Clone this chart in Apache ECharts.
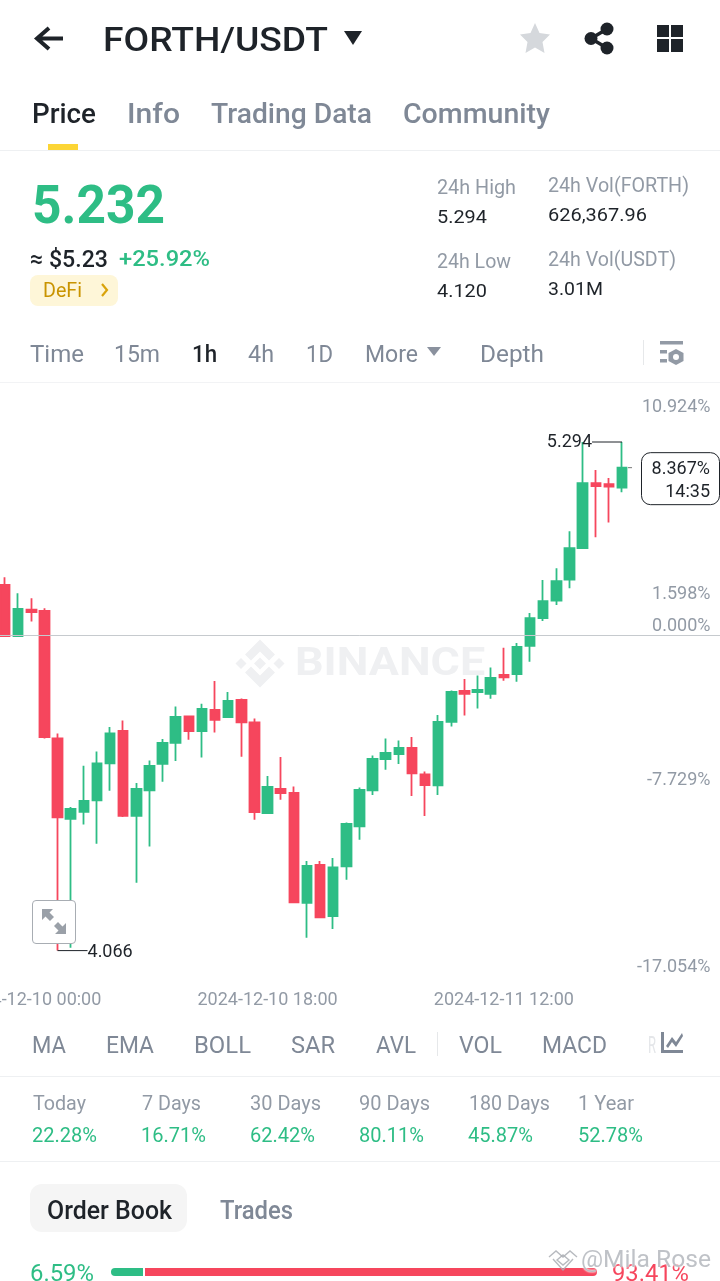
<!DOCTYPE html>
<html>
<head>
<meta charset="utf-8">
<script src="https://cdn.jsdelivr.net/npm/echarts@6/dist/echarts.min.js"></script>
<style>
html,body{margin:0;padding:0;background:#fff;width:720px;height:1281px;overflow:hidden;font-family:Roboto,sans-serif}
#chart{position:absolute;left:0;top:0;width:720px;height:1281px}
#ui{position:absolute;left:0;top:0;width:720px;height:1281px;pointer-events:none;overflow:hidden}
#ui span{position:absolute;white-space:nowrap;line-height:1;transform-origin:0 50%}
#ui div{position:absolute}
#ui svg{position:absolute;left:0;top:0}
</style>
</head>
<body>
<div id="chart"></div>
<div id="ui"></div>
<script>
// Hourly candles, values (percent from 24h reference line)
const categories = [
"2024-12-09 22:00","2024-12-09 23:00","2024-12-10 00:00","2024-12-10 01:00","2024-12-10 02:00","2024-12-10 03:00",
"2024-12-10 04:00","2024-12-10 05:00","2024-12-10 06:00","2024-12-10 07:00","2024-12-10 08:00","2024-12-10 09:00",
"2024-12-10 10:00","2024-12-10 11:00","2024-12-10 12:00","2024-12-10 13:00","2024-12-10 14:00","2024-12-10 15:00",
"2024-12-10 16:00","2024-12-10 17:00","2024-12-10 18:00","2024-12-10 19:00","2024-12-10 20:00","2024-12-10 21:00",
"2024-12-10 22:00","2024-12-10 23:00","2024-12-11 00:00","2024-12-11 01:00","2024-12-11 02:00","2024-12-11 03:00",
"2024-12-11 04:00","2024-12-11 05:00","2024-12-11 06:00","2024-12-11 07:00","2024-12-11 08:00","2024-12-11 09:00",
"2024-12-11 10:00","2024-12-11 11:00","2024-12-11 12:00","2024-12-11 13:00","2024-12-11 14:00","2024-12-11 15:00",
"2024-12-11 16:00","2024-12-11 17:00","2024-12-11 18:00","2024-12-11 19:00","2024-12-11 20:00","2024-12-11 21:00",
"","","","","","",""];
const opens  = [2.50,-0.05,1.27,1.20,-5.17,-9.19,-8.84,-8.27,-6.42,-4.80,-9.04,-7.77,-6.44,-5.39,-4.07,-4.80,-3.75,-4.10,-3.25,-4.37,-8.90,-7.70,-7.89,-13.39,-11.49,-14.05,-11.57,-9.57,-7.77,-6.20,-5.95,-5.64,-6.97,-7.52,-4.34,-2.80,-2.85,-2.94,-2.00,-1.95,-0.54,0.85,1.72,2.77,4.35,7.59,7.54,7.37];
const closes = [-0.05,1.30,1.15,-5.10,-9.12,-8.69,-8.29,-6.42,-4.92,-9.04,-7.70,-6.55,-5.39,-4.10,-4.80,-3.70,-4.24,-3.30,-4.37,-8.85,-7.60,-7.90,-13.37,-11.54,-14.12,-11.62,-9.45,-7.75,-6.20,-5.90,-5.65,-6.92,-7.50,-4.35,-2.85,-2.94,-2.74,-2.14,-2.12,-0.60,0.84,1.69,2.69,4.34,7.59,7.44,7.42,8.367];
const lows   = [-0.08,-0.09,0.67,-5.17,-15.78,-15.64,-9.47,-10.44,-7.79,-9.10,-12.39,-10.57,-7.34,-6.30,-5.24,-6.12,-4.87,-4.10,-6.09,-9.24,-8.94,-8.24,-13.40,-15.14,-14.15,-14.70,-12.24,-10.24,-8.00,-6.74,-6.45,-8.05,-9.05,-8.00,-4.57,-4.02,-3.67,-3.19,-2.29,-2.34,-1.34,0.70,1.50,2.34,4.35,4.89,5.62,7.14];
const highs  = [2.89,2.09,1.84,1.34,-4.92,-8.60,-6.54,-5.82,-4.60,-4.27,-7.40,-6.27,-5.20,-3.57,-4.07,-3.44,-2.30,-2.85,-3.17,-4.17,-7.05,-6.10,-7.57,-11.30,-11.30,-11.15,-9.37,-7.62,-6.02,-5.17,-5.27,-5.10,-6.82,-4.00,-2.77,-2.20,-2.02,-1.62,-0.64,-0.40,1.10,2.75,3.34,5.19,9.65,8.25,7.85,9.65];
const percentTicks = [10.924,1.598,0,-7.729,-17.054];
const timeTicks = ["2024-12-10 00:00","2024-12-10 18:00","2024-12-11 12:00"];
const highLabel = "5.294", lowLabel = "4.066", livePct = "8.367%", liveTimer = "14:35";
const highIndex = 47, lowIndex = 4, liveIndex = 47;

const GREEN = "#2EBD85", RED = "#F6465D", GRAY = "#929AA5", DARK = "#1E2329";
const chart = echarts.init(document.getElementById("chart"), null, {width:720, height:1281});
chart.setOption({
  animation:false,
  backgroundColor:"#fff",
  grid:{left:-1.564, top:384, width:722.04, height:625, containLabel:false, outerBoundsMode:"none"},
  xAxis:{type:"category", data:categories, boundaryGap:true,
    axisLine:{show:true, lineStyle:{color:"#EEF0F2", width:1}},
    axisTick:{show:false}, splitLine:{show:false},
    axisLabel:{inside:true, margin:0, fontSize:18, color:GRAY, fontFamily:"Roboto", verticalAlign:"bottom", hideOverlap:false,
      interval:(i,v)=>timeTicks.includes(v)}},
  yAxis:{type:"value", position:"right", min:-18.7, max:12.55, scale:true,
    axisLine:{show:false}, axisTick:{show:false}, splitLine:{show:false},
    axisLabel:{inside:true, margin:10, fontSize:18, color:GRAY, fontFamily:"Roboto", verticalAlign:"bottom", align:"right",
      customValues:percentTicks, showMinLabel:true, showMaxLabel:true,
      formatter:v=>v.toFixed(3)+"%"}},
  series:[{type:"candlestick", barWidth:10,
    data:opens.map((o,i)=>[o,closes[i],lows[i],highs[i]]),
    itemStyle:{color:GREEN,color0:RED,borderColor:GREEN,borderColor0:RED,borderWidth:1.8},
    markLine:{silent:true, symbol:"none", label:{show:false},
      lineStyle:{color:"#C6CACE", width:1, type:"solid"}, data:[{yAxis:0}], animation:false}}]
});

// Annotations anchored on the chart's own scales
const px = (i,v)=>chart.convertToPixel({xAxisIndex:0,yAxisIndex:0},[i,v]);
const hi = px(highIndex,highs[highIndex]), lo = px(lowIndex,lows[lowIndex]), live = px(liveIndex,closes[liveIndex]);
const WM = "#EFF0F2";
const poly = pts=>({type:"polygon",z:0,shape:{points:pts.map(p=>[260+p[0],663.5+p[1]])},style:{fill:WM}});
chart.setOption({graphic:{elements:[
  poly([[0,-24],[15,-9],[9,-3],[0,-12],[-9,-3],[-15,-9]]),
  poly([[0,24],[15,9],[9,3],[0,12],[-9,3],[-15,9]]),
  poly([[-19,-5.5],[-13.5,0],[-19,5.5],[-24.5,0]]),
  poly([[19,-5.5],[24.5,0],[19,5.5],[13.5,0]]),
  poly([[0,-6],[6,0],[0,6],[-6,0]]),
  {type:"text",z:0,x:295,y:665,scaleX:1.15,style:{text:"BINANCE",fill:WM,font:"700 39px Roboto",textVerticalAlign:"middle"}},
  {type:"line",z:10,shape:{x1:hi[0]-30,y1:hi[1],x2:hi[0],y2:hi[1]},style:{stroke:DARK,lineWidth:1}},
  {type:"text",z:10,x:hi[0]-30,y:hi[1],style:{text:highLabel,fill:DARK,font:"18px Roboto",textAlign:"right",textVerticalAlign:"middle"}},
  {type:"line",z:10,shape:{x1:lo[0],y1:lo[1],x2:lo[0]+30,y2:lo[1]},style:{stroke:DARK,lineWidth:1}},
  {type:"text",z:10,x:lo[0]+30,y:lo[1]+2,style:{text:lowLabel,fill:DARK,font:"18px Roboto",textAlign:"left",textVerticalAlign:"middle"}},
  {type:"line",z:10,shape:{x1:live[0]+6,y1:live[1],x2:live[0]+10,y2:live[1]},style:{stroke:"#777",lineWidth:1}},
  {type:"rect",z:10,shape:{x:641.5,y:live[1]-15,width:78,height:52,r:9},style:{fill:"#fff",stroke:DARK,lineWidth:1}},
  {type:"text",z:11,x:710,y:live[1]+2,style:{text:livePct,fill:DARK,font:"18px Roboto",textAlign:"right",textVerticalAlign:"middle"}},
  {type:"text",z:11,x:710,y:live[1]+25,style:{text:liveTimer,fill:DARK,font:"18px Roboto",textAlign:"right",textVerticalAlign:"middle"}}
]}});

// Surrounding app screen
const ui = document.getElementById("ui");
function box(x,y,w,h,bg,r){const d=document.createElement("div");d.style.cssText=`left:${x}px;top:${y}px;width:${w}px;height:${h}px;background:${bg};border-radius:${r||0}px`;ui.appendChild(d);return d;}
function t(s,x,cy,size,color,w,weight,extra){
  const e=document.createElement("span");e.textContent=s;
  e.style.cssText=`left:${x}px;top:${cy}px;font-size:${size}px;color:${color};font-weight:${weight||400};${extra||""}`;
  ui.appendChild(e);
  const m=e.getBoundingClientRect();
  e.style.marginTop=(-m.height/2)+"px";
  if(w) e.style.transform=`scaleX(${w/m.width})`;
  return e;
}
const TAB="#7F8896";
box(0,150,720,1,"#EEF0F2"); box(48,144,30,6,"#FCD535"); box(0,382,720,1,"#F2F3F5");
box(0,1076,720,1,"#EEF0F2"); box(0,1161,720,1,"#EEF0F2");
box(643,340,1,25,"#E6E8EA"); box(437,1032,1,24,"#E6E8EA");
box(30,275,88,31,"#FEF6D8",8); box(30,1184,157,48,"#F5F5F5",12);
box(111,1268,32,8,GREEN,4).style.borderRadius="4px 0 0 4px";
box(145,1268,452,8,RED,4).style.borderRadius="0 4px 4px 0";

t("FORTH/USDT",103,39,34,DARK,225,500);
t("Price",32,114,28,DARK,64,500);
t("Info",127,114,28,TAB,53,500);
t("Trading Data",211,114,28,TAB,161,500);
t("Community",403,114,28,TAB,147,500);
t("5.232",32,205,54,GREEN,133,700);
t("≈ $5.23",30,259,24,DARK,78,500);
t("+25.92%",119,259,22,GREEN,91,500);
t("DeFi",43,290,20,"#C99400",39);
t("24h High",437,187,20,GRAY,79);
t("5.294",437,216,19,DARK,50);
t("24h Low",437,261,20,GRAY,74);
t("4.120",437,290,19,DARK,50);
t("24h Vol(FORTH)",548,185,20,GRAY,141);
t("626,367.96",548,214,19,DARK,99);
t("24h Vol(USDT)",548,259,20,GRAY,128);
t("3.01M",548,288,19,DARK,55);
t("Time",30,354,24,TAB,54);
t("15m",114,354,24,TAB,46);
t("1h",192,354,24,DARK,25,500);
t("4h",248,354,24,TAB,26);
t("1D",306,354,24,TAB,27);
t("More",365,354,24,TAB,53);
t("Depth",480,354,24,TAB,64);
t("MA",32,1045,24,TAB,34);
t("EMA",106,1045,24,TAB,48);
t("BOLL",194,1045,24,TAB,57);
t("SAR",291,1045,24,TAB,44);
t("AVL",376,1045,24,TAB,40);
t("VOL",459,1045,24,TAB,43);
t("MACD",542,1045,24,TAB,65);
t("R",648,1045,24,"#E4E6E9",8);
[["Today",33,53,"22.28%",32],["7 Days",142,59,"16.71%",141],["30 Days",250,71,"62.42%",250],
 ["90 Days",359,71,"80.11%",359],["180 Days",469,81,"45.87%",468],["1 Year",578,56,"52.78%",578]].forEach(r=>{
  t(r[0],r[1],1103,20,GRAY,r[2]); t(r[3],r[4],1135,20,GREEN,65);
});
t("Order Book",47,1210,25,DARK,125,500);
t("Trades",220,1210,25,TAB,73,500);
t("6.59%",30,1273,23,GREEN,64);
t("93.41%",612,1273,23,RED,77);
t("@Mila Rose",581,1259,24,"rgba(170,174,180,.75)",130,400,"text-shadow:0 0 2px #fff,0 0 2px #fff");

const btn=box(32,900,42,42,"#fff",4);btn.style.border="1px solid #A8ADB3";

const ns="http://www.w3.org/2000/svg";
const svg=document.createElementNS(ns,"svg");svg.setAttribute("width",720);svg.setAttribute("height",1281);
svg.innerHTML=`
<path d="M63 38.5H38M49 28L37 38.5L49 49" fill="none" stroke="${DARK}" stroke-width="4"/>
<path d="M344 31H362L353 45Z" fill="${DARK}"/>
<path d="M535 23L539.5 33L550 34.5L542.5 42L544.5 53L535 47.5L525.5 53L527.5 42L520 34.5L530.5 33Z" fill="#D5D8DC"/>
<g fill="${DARK}"><circle cx="591" cy="38.5" r="6.5"/><circle cx="607" cy="29" r="6.5"/><circle cx="607" cy="48" r="6.5"/></g>
<path d="M607 29L591 38.5L607 48" fill="none" stroke="${DARK}" stroke-width="3.5"/>
<g fill="${DARK}"><rect x="657" y="25" width="12" height="12"/><rect x="671" y="25" width="12" height="12"/><rect x="657" y="39" width="12" height="13"/><rect x="671" y="39" width="12" height="13"/></g>
<path d="M427 347H441L434 356Z" fill="#8A919E"/>
<g fill="#929AA5"><rect x="660" y="341" width="23" height="3.5"/><rect x="660" y="350" width="7" height="3.5"/><rect x="660" y="359" width="7" height="3.5"/><path d="M676 349L683.5 353V361L676 365L668.5 361V353Z"/></g>
<circle cx="676" cy="357" r="3" fill="#fff"/>
<path d="M102 284L107 290L102 296" fill="none" stroke="#D9A30B" stroke-width="2.2"/>
<g fill="#7F8896"><path d="M661 1032H664V1050H683V1053H661Z"/><path d="M666 1046L672 1037L676 1042L682 1033L683 1036L676 1047L672 1042L668 1048Z"/></g>
<g fill="#9AA0A8"><path d="M42 909H53L49.5 912.5L54 917L50 921L45.5 916.5L42 920Z"/><path d="M66 934H55L58.5 930.5L54 926L58 922L62.5 926.5L66 923Z"/></g>
<g fill="none" stroke="rgba(170,174,180,.85)" stroke-width="1.4"><path d="M549 1257L556 1251L563 1257L570 1251L577 1257"/><path d="M553 1259L563 1270L573 1259"/><path d="M557 1260L563 1255L569 1260L563 1265Z"/></g>
`;
ui.appendChild(svg);
</script>
</body>
</html>
